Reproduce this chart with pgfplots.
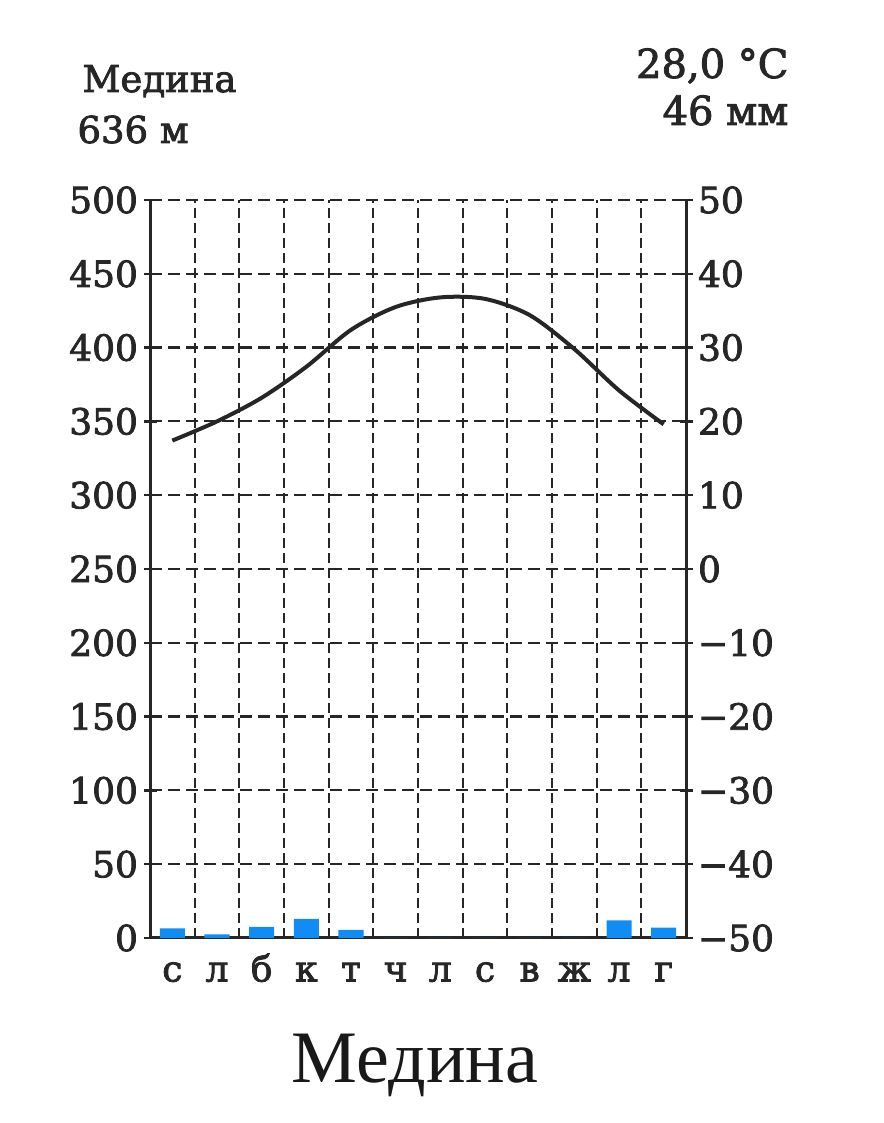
\documentclass[border=0pt]{standalone}
\usepackage{pgfplots}
\pgfplotsset{compat=1.18}
\usepackage{fontspec}
\setmainfont{DejaVu Serif}[FakeBold=2.2]
\newfontfamily\titlefont{Liberation Serif}
\definecolor{barblue}{RGB}{16,140,245}
\begin{document}
\begin{tikzpicture}[x=1pt,y=1pt]
\path[use as bounding box] (0,0) rectangle (883,1123);
\pgfplotsset{
  chartbase/.style={
    at={(150pt,185pt)}, anchor=south west, scale only axis,
    width=536pt, height=738pt,
    xmin=0.5, xmax=12.5,
    tick label style={font=\fontsize{36}{38}\selectfont, text=black!85},
    /pgf/number format/assume math mode=true,
    axis line style={-, line width=3pt, black!85},
    tick align=center, major tick length=13pt,
    every tick/.style={line width=2.5pt, black!85},
  }
}
\begin{axis}[chartbase,
  ymin=0, ymax=500,
  axis x line*=bottom, axis y line*=left,
  ytick={0,50,...,500},
  xtick={1,...,12},
  xticklabels={с,л,б,к,т,ч,л,с,в,ж,л,г},
  minor xtick={1.5,2.5,...,11.5},
  xminorgrids=true, ymajorgrids=true, xmajorgrids=false,
  major grid style={black!85, line width=2.2pt, dash pattern=on 12pt off 6pt},
  minor grid style={black!85, line width=2.2pt, dash pattern=on 10pt off 5pt},
  xtick style={draw=none},
  yticklabel style={xshift=-2pt},
  xticklabel style={anchor=base, text height=0.75em, text depth=0pt, yshift=-37pt},
]
\addplot[ybar, bar width=0.56, fill=barblue, draw=none] coordinates {
  (1,6.5) (2,2.5) (3,7.5) (4,13) (5,5.5) (6,0) (7,0) (8,0) (9,0) (10,0) (11,12) (12,7)
};
\end{axis}
\begin{axis}[chartbase,
  ymin=-50, ymax=50,
  axis x line=none, axis y line*=right,
  ytick={-50,-40,...,50},
  yticklabels={−50,−40,−30,−20,−10,0,10,20,30,40,50},
  yticklabel style={xshift=2pt},
]
\addplot[smooth, line width=4pt, black!85] coordinates {
  (1,17.4) (2,20) (3,23.2) (4,27.4) (5,32.4) (6,35.5) (7,36.8) (8,36.6) (9,34.4) (10,29.8) (11,24.2) (12,19.6)
};
\end{axis}
\node[anchor=base west, font=\fontsize{37}{40}\selectfont, text=black!85] at (79,1031) {Медина};
\node[anchor=base west, font=\fontsize{37}{40}\selectfont, text=black!85] at (74,980) {636 м};
\node[anchor=base east, font=\fontsize{40}{42}\selectfont, text=black!85] at (792,1045) {28,0 °C};
\node[anchor=base east, font=\fontsize{40}{42}\selectfont, text=black!85] at (792,998) {46 мм};
\node[anchor=base, font=\titlefont\fontsize{74}{78}\selectfont, text=black!90] at (415,40) {Медина};
\end{tikzpicture}
\end{document}
